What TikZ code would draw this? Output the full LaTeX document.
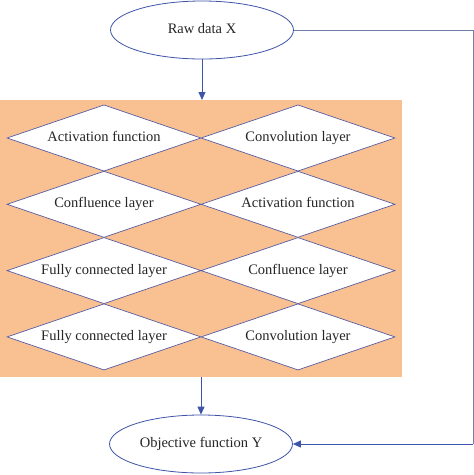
\documentclass[tikz,border=0pt]{standalone}
\usepackage{fontspec}
\setmainfont{Liberation Serif}
\usetikzlibrary{shapes.geometric,arrows.meta}
\definecolor{panelfill}{RGB}{249,192,145}
\definecolor{edgeblue}{RGB}{88,92,160}
\definecolor{arrowblue}{RGB}{62,84,168}
\definecolor{linegray}{RGB}{110,128,170}
\tikzset{
  txt/.style={font=\fontsize{14.5}{16}\selectfont, text=black!85, text height=10pt, text depth=3pt},
  ovalbox/.style={ellipse, draw=arrowblue, line width=0.8pt, fill=white, minimum width=183pt, minimum height=58pt, inner sep=0pt, txt},
  cell/.style={diamond, draw=edgeblue, line width=0.7pt, fill=white, aspect=2.94, minimum width=194pt, minimum height=66.3pt, inner sep=0pt, txt},
  flow/.style={draw=arrowblue, line width=0.8pt, -{Triangle[length=8pt,width=7pt]}},
  link/.style={draw=linegray, line width=0.8pt},
}
\begin{document}
\begin{tikzpicture}[x=1pt,y=-1pt]
\useasboundingbox (0,0) rectangle (474,475);
\node[fill=panelfill, minimum width=402pt, minimum height=277pt, inner sep=0pt, anchor=north west] (panel) at (0,100) {};
\node[ovalbox] (raw) at (202,30) {Raw data X};
\node[ovalbox] (obj) at (201,444) {Objective function Y};
\node[cell] (a1) at (104,138) {Activation function};
\node[cell] (b1) at (298,138) {Convolution layer};
\node[cell] (a2) at (104,204.3) {Confluence layer};
\node[cell] (b2) at (298,204.3) {Activation function};
\node[cell] (a3) at (104,270.6) {Fully connected layer};
\node[cell] (b3) at (298,270.6) {Confluence layer};
\node[cell] (a4) at (104,336.9) {Fully connected layer};
\node[cell] (b4) at (298,336.9) {Convolution layer};
\coordinate (c1) at (473,30);
\coordinate (c2) at (473,444);
\draw[flow] (raw.south) -- (raw.south |- panel.north);
\draw[flow] (obj.north |- panel.south) -- (obj.north);
\draw[link] (raw.east) -- (c1) -- (c2);
\draw[flow] (c2) -- (obj.east);
\end{tikzpicture}
\end{document}
